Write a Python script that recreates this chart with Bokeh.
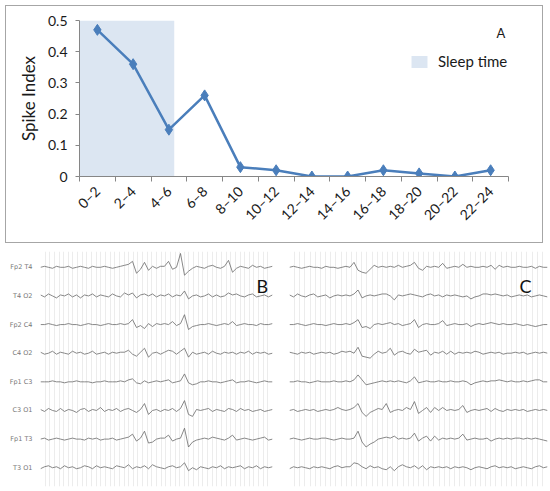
import numpy as np
from bokeh.plotting import figure
from bokeh.models import (Range1d, LinearAxis, FixedTicker, Legend, LegendItem, Label)
from bokeh.layouts import column, row
from bokeh.embed import file_html
from bokeh.resources import INLINE

# ---------------- Panel A data ----------------
hours = ["0–2", "2–4", "4–6", "6–8", "8–10", "10–12", "12–14", "14–16",
         "16–18", "18–20", "20–22", "22–24"]
spike_index = [0.47, 0.36, 0.15, 0.26, 0.03, 0.02, 0.0, 0.0, 0.02, 0.01, 0.0, 0.02]
sleep_hours = (0.0, 5.3)
y_ticks = [0, 0.1, 0.2, 0.3, 0.4, 0.5]

# ---------------- Panels B / C data (EEG, deflection units) ----------------
channels = ["Fp2 T4", "T4 O2", "Fp2 C4", "C4 O2", "Fp1 C3", "C3 O1", "Fp1 T3", "T3 O1"]

b_fp2_t4 = [0,1,0,-1,1,0,0,1,-1,0,1,0,-1,1,0,0,1,0,-1,0,1,2,3,6,-6,-2,5,-3,1,-1,1,1,6,-2,0,14,-8,-4,-1,1,0,-1,1,2,0,-1,1,7,-5,-1,1,0,-1,2,0,1,-1,0,1]
b_t4_o2 = [1,-1,2,0,-2,1,0,2,-1,1,-2,1,0,2,-1,1,0,-1,2,0,-1,3,1,3,-2,1,2,0,2,-1,1,0,2,-1,1,0,5,-3,0,1,-1,0,2,-1,1,-1,0,3,1,2,0,-1,1,2,-1,0,1,-1,1]
b_fp2_c4 = [0,0,1,0,-1,0,0,1,0,0,-1,0,1,0,0,-1,0,1,0,0,1,0,1,5,-3,-1,-4,1,-2,1,0,1,0,3,-1,1,10,-5,-2,-1,0,0,1,0,-1,0,1,0,3,-1,0,1,0,0,-1,1,0,0,1]
b_c4_o2 = [1,-1,0,2,-1,1,0,-1,2,0,1,-1,0,2,-1,0,1,-1,1,0,1,1,3,-1,-3,1,5,-4,0,1,-1,1,3,2,-1,2,5,-4,1,-1,0,1,-1,2,0,-1,1,0,1,-1,1,0,2,-1,1,0,1,-1,0]
b_fp1_c3 = [0,0,0,1,0,0,-1,0,0,1,0,0,0,-1,0,0,1,0,0,0,1,0,2,3,-1,-2,1,-1,0,1,0,1,2,-1,0,1,8,-1,-3,-2,0,0,1,0,0,-1,0,1,2,-1,0,0,1,0,-1,0,1,0,0]
b_c3_o1 = [1,-1,2,0,-1,2,-1,1,0,-2,1,2,-1,1,0,3,-1,1,0,2,-1,1,2,0,-2,1,7,-4,0,1,-1,1,0,2,-1,2,10,-4,-6,1,0,1,2,-1,1,0,-1,2,1,-1,2,0,1,-1,0,1,-1,0,1]
b_fp1_t3 = [0,1,-1,0,1,0,-1,0,1,0,0,-1,1,0,1,-1,0,0,1,-1,0,1,2,5,-2,1,8,-4,-3,0,1,1,4,-2,0,1,11,-8,-3,-1,0,1,0,2,1,0,-1,1,4,-1,0,1,0,-1,0,1,2,-1,0]
b_t3_o1 = [-1,1,2,0,1,-1,2,0,1,-1,0,2,1,-1,2,0,1,0,-1,2,1,0,3,-1,1,0,2,-1,3,1,0,-1,1,2,0,1,5,-3,0,-2,1,0,-1,1,0,2,-1,1,0,1,2,-1,1,0,2,-1,1,0,1]

c_fp2_t4 = [0,1,0,-1,0,1,0,0,-1,1,0,0,-1,0,1,0,5,-3,-5,-6,-2,2,0,1,0,1,0,2,0,1,2,5,-1,-3,1,0,1,0,4,-1,0,1,0,3,0,1,0,0,1,0,2,-2,2,0,1,0,0,1,0,0,1,-1,1,0,0]
c_t4_o2 = [1,-1,2,0,-1,1,2,-1,0,1,-2,0,1,0,1,0,2,6,-2,0,1,0,1,2,2,0,-4,1,0,1,2,1,0,-1,1,2,0,1,-1,1,0,1,0,-1,0,-3,-1,0,2,2,1,2,1,0,1,-1,0,1,0,1,-1,0,1,0,-1]
c_fp2_c4 = [0,0,1,0,-1,0,1,0,0,-1,0,1,0,0,1,0,2,5,-3,-2,-4,0,1,0,1,2,0,1,-1,0,1,5,-3,0,1,0,0,1,4,-1,0,1,0,0,1,-2,0,1,0,1,2,1,0,1,0,0,1,0,-1,0,-1,-2,-1,0,0]
c_c4_o2 = [1,0,-1,1,0,1,-1,0,1,0,1,-1,0,2,1,2,0,6,-3,-4,-5,-1,2,0,1,5,-2,1,2,0,-1,4,1,2,3,-2,1,0,2,-1,2,-1,1,0,1,0,2,1,-1,0,1,0,1,-1,0,0,1,0,1,-1,0,1,0,1,0]
c_fp1_c3 = [0,0,1,0,0,-1,0,1,0,0,0,1,0,0,1,0,2,7,2,-3,-2,-1,0,1,0,1,0,1,0,-1,1,5,-1,0,1,0,0,1,0,0,1,0,0,1,0,-3,-1,0,1,0,1,1,2,1,0,1,0,0,1,0,1,2,2,0,0]
c_c3_o1 = [0,1,-1,0,1,0,1,-1,0,1,0,1,3,1,0,1,3,7,-2,-6,-2,0,2,1,7,-2,0,1,0,3,1,9,-3,0,3,-2,3,0,3,0,1,0,1,5,-2,0,1,0,1,2,-1,2,0,-1,1,0,1,0,1,-1,0,1,0,1,0]
c_fp1_t3 = [0,1,0,-1,0,1,0,0,1,1,0,-1,0,1,0,0,1,8,-3,-8,-5,-3,0,1,2,1,3,0,1,0,1,6,-2,1,3,-2,3,-1,1,0,1,0,1,5,-1,0,1,0,0,1,-2,0,1,0,1,0,1,1,0,1,0,1,0,-1,-2]
c_t3_o1 = [-1,1,0,1,0,-1,1,0,1,0,-1,1,2,0,1,1,5,4,1,-1,2,0,1,-1,-2,1,-3,1,3,1,0,2,-1,2,-2,1,0,1,0,1,-1,1,0,1,0,-2,0,1,0,-1,1,2,0,1,0,1,-1,0,1,0,-1,1,2,0,1]

panel_b = [b_fp2_t4, b_t4_o2, b_fp2_c4, b_c4_o2, b_fp1_c3, b_c3_o1, b_fp1_t3, b_t3_o1]
panel_c = [c_fp2_t4, c_t4_o2, c_fp2_c4, c_c4_o2, c_fp1_c3, c_c3_o1, c_fp1_t3, c_t3_o1]
page_seconds = 10.0
grid_step_s = 0.2
channel_gap = 29

FONT = "Lato"
BLUE = "#4a7ebb"
SHADE = "#dce6f2"
AXIS_GRAY = "#868686"

# ---------------- Panel A ----------------
n_cat = len(hours)
centers = [i + 0.5 for i in range(n_cat)]
bounds = list(range(n_cat + 1))

pa = figure(width=538, height=238, x_range=Range1d(0, n_cat), y_range=Range1d(0, 0.5),
            x_axis_location=None, toolbar_location=None, output_backend="svg",
            min_border_left=73, min_border_right=36, min_border_top=14, min_border_bottom=68,
            margin=(5, 5, 5, 5), styles={"border": "1px solid #a6a6a6"})
pa.outline_line_color = None
pa.border_fill_color = None
pa.grid.grid_line_color = None

shade = pa.quad(left=sleep_hours[0] / 2, right=sleep_hours[1] / 2, bottom=0, top=0.5,
                fill_color=SHADE, line_color=None)
pa.line(x=centers, y=spike_index, line_color=BLUE, line_width=2.5)
pa.scatter(x=centers, y=spike_index, marker="diamond", size=11, fill_color=BLUE, line_color=BLUE)

cat_axis = LinearAxis(ticker=FixedTicker(ticks=centers, minor_ticks=bounds),
                      major_label_overrides={c: h for c, h in zip(centers, hours)},
                      axis_line_color=AXIS_GRAY, major_tick_line_color=None,
                      minor_tick_line_color=AXIS_GRAY, minor_tick_out=5, minor_tick_in=0,
                      major_tick_out=0, major_tick_in=0,
                      major_label_orientation=np.pi / 4, major_label_text_font=FONT,
                      major_label_text_font_size="14px", major_label_text_color="#1a1a1a",
                      major_label_standoff=7)
pa.add_layout(cat_axis, "below")

ya = pa.yaxis[0]
ya.ticker = FixedTicker(ticks=y_ticks)
ya.major_label_overrides = {0: "0"}
ya.axis_label = "Spike Index"
ya.axis_label_text_font = FONT
ya.axis_label_text_font_size = "17px"
ya.axis_label_text_font_style = "normal"
ya.axis_label_text_color = "#1a1a1a"
ya.axis_label_standoff = 6
ya.major_label_text_font = FONT
ya.major_label_text_font_size = "14px"
ya.major_label_text_color = "#1a1a1a"
ya.axis_line_color = AXIS_GRAY
ya.major_tick_line_color = AXIS_GRAY
ya.major_tick_out = 4
ya.major_tick_in = 0
ya.minor_tick_line_color = None
ya.major_label_standoff = 8

legend = Legend(items=[LegendItem(label="Sleep time", renderers=[shade])],
                location=(330, 106), padding=0, spacing=0, glyph_width=20, glyph_height=15,
                label_standoff=9, border_line_color=None, background_fill_alpha=0,
                label_text_font=FONT, label_text_font_size="15px", label_text_color="#1a1a1a")
pa.add_layout(legend)
pa.add_layout(Label(x=417, y=144, x_units="screen", y_units="screen", text="A",
                    text_font=FONT, text_font_size="13px", text_color="#1a1a1a",
                    text_baseline="alphabetic"))


# ---------------- Panels B and C ----------------
def eeg_panel(traces, width, left, right, letter, letter_x, show_labels):
    offsets = [channel_gap * (len(traces) - 1 - k) for k in range(len(traces))]
    p = figure(width=width, height=241, x_range=Range1d(0, page_seconds),
               y_range=Range1d(-(channel_gap - 10), offsets[0] + 16),
               toolbar_location=None, output_backend="svg",
               min_border_left=left, min_border_right=right, min_border_top=3, min_border_bottom=3,
               x_axis_location=None, y_axis_location="left" if show_labels else None)
    p.outline_line_color = None
    p.ygrid.grid_line_color = None
    p.xgrid.ticker = FixedTicker(ticks=list(np.arange(0, page_seconds + 1e-9, grid_step_s)))
    p.xgrid.grid_line_color = "#ececec"
    p.xgrid.grid_line_width = 1
    for off, vals in zip(offsets, traces):
        t = np.linspace(0, page_seconds, len(vals))
        p.line(x=t, y=np.asarray(vals, dtype=float) + off, line_color="#6a6a6a", line_width=0.8)
    if show_labels:
        ax = p.yaxis[0]
        ax.ticker = FixedTicker(ticks=offsets)
        ax.major_label_overrides = {o: c for o, c in zip(offsets, channels)}
        ax.axis_line_color = None
        ax.major_tick_line_color = None
        ax.minor_tick_line_color = None
        ax.major_tick_out = 0
        ax.major_label_standoff = 8
        ax.major_label_text_font = "DejaVu Sans"
        ax.major_label_text_font_size = "6.5px"
        ax.major_label_text_color = "#777777"
    p.add_layout(Label(x=letter_x, y=201, x_units="screen", y_units="screen", text=letter,
                       text_font=FONT, text_font_size="18px", text_color="#111111",
                       text_baseline="alphabetic"))
    return p


pb = eeg_panel(panel_b, 280, 40, 8, "B", 216, True)
pc = eeg_panel(panel_c, 270, 9, 3, "C", 230, False)

layout = column(pa, row(pb, pc))
open("out.html", "w").write(file_html(layout, INLINE))
